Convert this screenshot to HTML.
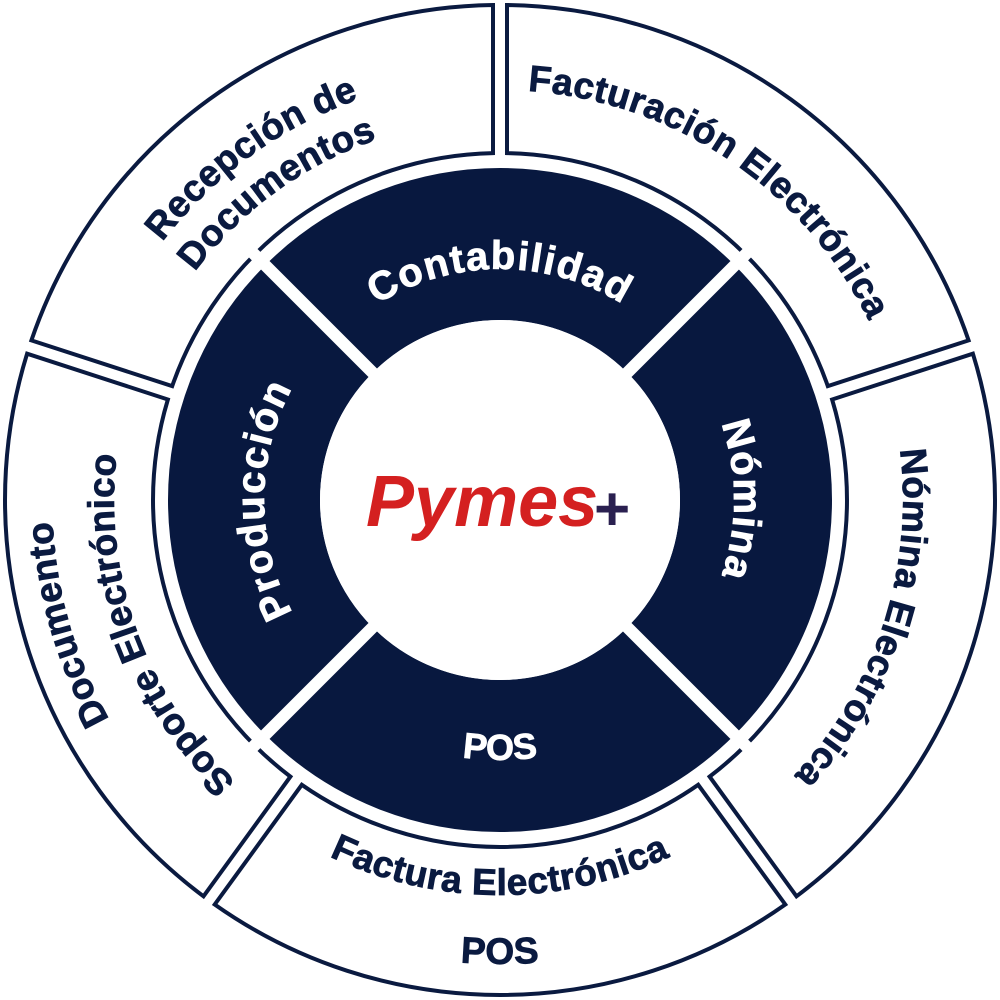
<!DOCTYPE html>
<html><head><meta charset="utf-8">
<style>
html,body{margin:0;padding:0;background:#fff;}
svg{display:block;}
.o{font-family:"Liberation Sans",sans-serif;font-weight:bold;font-size:37px;fill:#0a1a40;stroke:#0a1a40;stroke-width:0.8px;letter-spacing:0.5px;}
.i{font-family:"Liberation Sans",sans-serif;font-weight:bold;font-size:40px;fill:#fff;stroke:#fff;stroke-width:0.8px;letter-spacing:1.5px;}
</style></head>
<body>
<svg width="1000" height="1000" viewBox="0 0 1000 1000" xmlns="http://www.w3.org/2000/svg">
<defs>
<path id="c231" d="M269,500 A231,231 0 0 1 731,500"/>
<path id="c234" d="M266,500 A234,234 0 0 1 734,500"/>
<path id="c236" d="M264,500 A236,236 0 0 1 736,500"/>
<path id="c410" d="M90,500 A410,410 0 0 1 910,500"/>
<path id="c403" d="M97,500 A403,403 0 0 1 903,500"/>
<path id="c448" d="M52,500 A448,448 0 0 1 948,500"/>
<path id="c386" d="M114,500 A386,386 0 0 1 886,500"/>
<path id="c425" d="M75,500 A425,425 0 0 1 925,500"/>
<path id="c381" d="M119,500 A381,381 0 0 1 881,500"/>
<path id="a260" d="M240,500 A260,260 0 0 0 760,500"/>
<path id="a395" d="M105,500 A395,395 0 0 0 895,500"/>
<path id="a464" d="M36,500 A464,464 0 0 0 964,500"/>
</defs>

<g fill="#fff" stroke="#0a1a40" stroke-width="4" stroke-linejoin="miter">
<path d="M507,5 A495,495 0 0 1 968.6,340.4 L827.8,386.1 A347,347 0 0 0 507,153.1 Z"/>
<path d="M972.9,353.7 A495,495 0 0 1 796.5,896.3 L709.6,776.6 A347,347 0 0 0 832.1,399.5 Z"/>
<path d="M785.3,904.5 A495,495 0 0 1 214.7,904.5 L301.8,784.8 A347,347 0 0 0 698.2,784.8 Z"/>
<path d="M203.5,896.3 A495,495 0 0 1 27.1,353.7 L167.9,399.5 A347,347 0 0 0 290.4,776.6 Z"/>
<path d="M31.4,340.4 A495,495 0 0 1 493,5 L493,153.1 A347,347 0 0 0 172.2,386.1 Z"/>
</g>

<circle cx="500" cy="500" r="256" fill="none" stroke="#08183f" stroke-width="152"/>
<g stroke="#fff" stroke-width="12">
<line x1="240" y1="240" x2="760" y2="760"/>
<line x1="760" y1="240" x2="240" y2="760"/>
</g>
<circle cx="500" cy="500" r="180" fill="#fff"/>

<text class="i"><textPath href="#c231" startOffset="50%" text-anchor="middle">Contabilidad</textPath></text>
<g transform="rotate(90 500 500)"><text class="i"><textPath href="#c234" startOffset="50%" text-anchor="middle">Nómina</textPath></text></g>
<g transform="rotate(270 500 500)"><text class="i"><textPath href="#c236" startOffset="50%" text-anchor="middle">Producción</textPath></text></g>
<text class="i" style="font-size:36px;letter-spacing:0"><textPath href="#a260" startOffset="50%" text-anchor="middle">POS</textPath></text>

<g transform="rotate(34 500 500)"><text class="o"><textPath href="#c410" startOffset="50%" text-anchor="middle">Facturación Electrónica</textPath></text></g>
<g transform="rotate(108 500 500)"><text class="o"><textPath href="#c403" startOffset="50%" text-anchor="middle">Nómina Electrónica</textPath></text></g>
<g transform="rotate(254 500 500)"><text class="o"><textPath href="#c448" startOffset="50%" text-anchor="middle">Documento</textPath></text></g>
<g transform="rotate(250 500 500)"><text class="o"><textPath href="#c386" startOffset="50%" text-anchor="middle">Soporte Electrónico</textPath></text></g>
<g transform="rotate(-36 500 500)"><text class="o"><textPath href="#c425" startOffset="50%" text-anchor="middle">Recepción de</textPath></text>
<text class="o"><textPath href="#c381" startOffset="50%" text-anchor="middle">Documentos</textPath></text></g>
<text class="o"><textPath href="#a395" startOffset="50%" text-anchor="middle">Factura Electrónica</textPath></text>
<text class="o"><textPath href="#a464" startOffset="50%" text-anchor="middle">POS</textPath></text>

<text x="366" y="526" font-family="Liberation Sans, sans-serif" font-weight="bold" font-style="italic" font-size="72" fill="#d42020">Pymes</text>
<text x="594" y="530" font-family="Liberation Sans, sans-serif" font-weight="bold" font-size="62" fill="#2a2050">+</text>
</svg>
</body></html>
